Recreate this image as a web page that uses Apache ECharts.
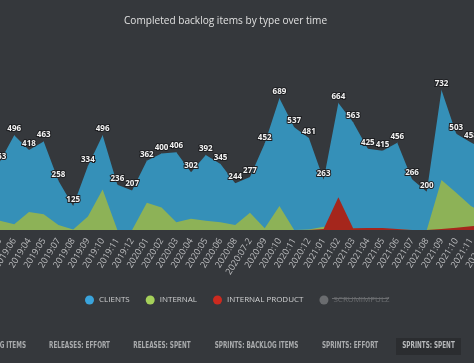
<!DOCTYPE html>
<html>
<head>
<meta charset="utf-8">
<script src="https://cdn.jsdelivr.net/npm/echarts@6/dist/echarts.min.js"></script>
<style>
html,body{margin:0;padding:0;background:#35383c;}
#c{width:474px;height:363px;}
</style>
</head>
<body>
<div id="c"></div>
<script>
var categories = ['2019:03','2019:06','2019:04','2019:05','2019:07','2019:08','2019:09','2019:10','2019:11','2019:12',
  '2020:01','2020:02','2020:03','2020:04','2020:05','2020:06','2020:08','2020:07-2','2020:09','2020:10','2020:11','2020:12',
  '2021:01','2021:02','2021:03','2021:04','2021:05','2021:06','2021:07','2021:08','2021:09','2021:10','2021:11','2021:12'];
var clients = [353,496,418,463,258,125,334,496,236,207,362,400,406,302,392,345,244,277,452,689,537,481,263,664,563,425,415,456,266,200,732,503,458,420];
var internal = [49,30,94,83,26,2,70,212,0,0,143,117,40,59,49,40,26,90,9,125,0,3,17,5,8,4,3,2,0,0,261,195,125,80];
var internalProduct = [0,0,0,0,0,0,0,0,0,0,0,0,0,0,0,0,0,0,0,0,0,0,5,171,9,10,10,5,0,0,5,12,20,25];
var scrumimpulz = [0,0,0,0,0,0,0,0,0,0,0,0,0,0,0,0,0,0,0,0,0,0,0,0,0,0,0,0,0,0,0,0,0,0];
var tabs = ['RELEASES: BACKLOG ITEMS','RELEASES: EFFORT','RELEASES: SPENT','SPRINTS: BACKLOG ITEMS','SPRINTS: EFFORT','SPRINTS: SPENT'];

var chart = echarts.init(document.getElementById('c'));
var FONT = "'Open Sans', 'Noto Sans', sans-serif";
var TABFONT = "'Liberation Sans Narrow', 'DejaVu Sans Condensed', sans-serif";

function areaSeries(name, data, legendColor, fillColor, withLabel, z) {
  return {
    name: name, type: 'line', data: data, z: z,
    showSymbol: withLabel, symbol: 'circle', symbolSize: 0.5,
    itemStyle: {color: legendColor},
    lineStyle: {width: 0, opacity: 0},
    areaStyle: {color: fillColor, opacity: 1},
    label: withLabel ? {
      show: true, position: 'top', distance: 2,
      fontSize: 8, fontFamily: FONT, fontWeight: 'bold',
      color: '#f2f2f2', textBorderColor: '#1e1f22', textBorderWidth: 2
    } : {show: false},
    labelLayout: {hideOverlap: false},
    emphasis: {disabled: true}
  };
}

var tabCenters = [null, 79.5, 162, 256.5, 350, 428.5];
var graphics = [
  {type: 'rect', shape: {x: 396, y: 338, width: 65, height: 17}, style: {fill: '#2b2d30'}, z: 1},
  {type: 'text', x: 26, y: 346, scaleX: 0.79, style: {text: tabs[0], fill: '#a9abad', font: 'bold 8px ' + TABFONT, textAlign: 'right', textVerticalAlign: 'middle'}, z: 2},
  {type: 'line', shape: {x1: 332, y1: 298.5, x2: 389, y2: 298.5}, style: {stroke: '#6a6c6f', lineWidth: 1}, z: 10}
];
for (var i = 1; i < tabs.length; i++) {
  graphics.push({type: 'text', x: tabCenters[i], y: 346, scaleX: 0.79,
    style: {text: tabs[i], fill: i === 5 ? '#b8babc' : '#a9abad', font: 'bold 8px ' + TABFONT, textAlign: 'center', textVerticalAlign: 'middle'}, z: 2});
}

chart.setOption({
  backgroundColor: '#35383c',
  animation: false,
  title: {
    text: 'Completed backlog items by type over time',
    left: 119, top: 11,
    textStyle: {color: '#e0e0e0', fontSize: 10.1, fontWeight: 'normal', fontFamily: FONT}
  },
  legend: {
    left: 80, top: 290.5, icon: 'circle', itemWidth: 9, itemHeight: 9, itemGap: 16,
    textStyle: {color: '#cfd0d1', fontSize: 8, fontFamily: FONT},
    inactiveColor: '#6a6c6f',
    selected: {'SCRUMIMPULZ': false},
    data: ['CLIENTS','INTERNAL','INTERNAL PRODUCT','SCRUMIMPULZ']
  },
  grid: {left: -0.5, right: -11.7, top: 77, bottom: 133, containLabel: false, outerBoundsMode: 'none'},
  xAxis: {
    type: 'category', data: categories, boundaryGap: false,
    axisLine: {show: false}, axisTick: {show: false},
    axisLabel: {rotate: 58, interval: 0, fontSize: 9, color: '#bcbdbf', fontFamily: FONT, margin: 9, hideOverlap: false}
  },
  yAxis: {type: 'value', min: 0, max: 800, show: false, splitLine: {show: false}},
  series: [
    areaSeries('CLIENTS', clients, '#3aa4dc', '#3590b8', true, 2),
    areaSeries('INTERNAL', internal, '#a5d05a', '#8db257', false, 3),
    areaSeries('INTERNAL PRODUCT', internalProduct, '#cc2a1f', '#a5261c', false, 4),
    areaSeries('SCRUMIMPULZ', scrumimpulz, '#8a8a8a', '#8a8a8a', false, 1)
  ],
  graphic: graphics
});
</script>
</body>
</html>
